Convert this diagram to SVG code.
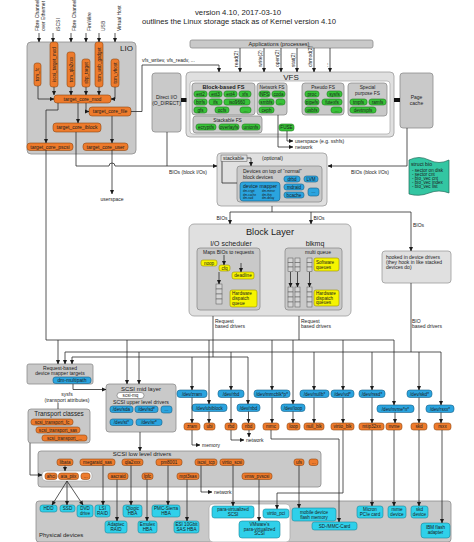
<svg xmlns="http://www.w3.org/2000/svg" width="474" height="542" viewBox="0 0 474 542">
<defs>
<marker id="ar" viewBox="0 0 10 10" refX="9" refY="5" markerWidth="4.5" markerHeight="4.5" markerUnits="userSpaceOnUse" orient="auto"><path d="M0,0.5 L10,5 L0,9.5 z" fill="#1a1a1a"/></marker>
<style>
text{font-family:"Liberation Sans",Arial,Helvetica,sans-serif;fill:#1c1c1c}
.m{text-anchor:middle}
.f5{font-size:5px}
.f4{font-size:4.6px}
.f3{font-size:3px}
.box{fill:#c9c9c9;stroke:#8d8d8d;stroke-width:0.8}
.lbox{fill:#e0e0e0;stroke:#9c9c9c;stroke-width:0.8}
.wbox{fill:#ffffff;stroke:#a8a8a8;stroke-width:0.7}
.o{fill:#ee7b2c;stroke:#8e4611;stroke-width:0.6}
.g{fill:#38c238;stroke:#1c7a1c;stroke-width:0.6}
.b{fill:#2aa4df;stroke:#155f87;stroke-width:0.6}
.y{fill:#f6f400;stroke:#9c9100;stroke-width:0.6}
.c{fill:#2fd0ea;stroke:#19869a;stroke-width:0.6}
.q{fill:#d4d4d4;stroke:#555;stroke-width:0.5}
#connectors path{fill:none;stroke:#2b2b2b;stroke-width:0.8}
.ma{marker-end:url(#ar)}
</style>
</defs>
<rect x="0" y="0" width="474" height="542" fill="#ffffff"/>

<g id="title">
<text x="238" y="14.5" class="m" font-size="7" textLength="86" lengthAdjust="spacingAndGlyphs">version 4.10, 2017-03-10</text>
<text x="239" y="23.5" class="m" font-size="7" textLength="194" lengthAdjust="spacingAndGlyphs">outlines the Linux storage stack as of Kernel version 4.10</text>
</g>

<g id="inputs" class="f5">
<text transform="translate(38.5,31) rotate(-90)">Fibre Channel</text>
<text transform="translate(44.5,31) rotate(-90)">over Ethernet</text>
<text transform="translate(60,31) rotate(-90)">iSCSI</text>
<text transform="translate(76,31) rotate(-90)">Fibre Channel</text>
<text transform="translate(91,31) rotate(-90)">FireWire</text>
<text transform="translate(105,31) rotate(-90)">USB</text>
<text transform="translate(121,31) rotate(-90)">Virtual Host</text>
</g>

<g id="lio">
<rect x="27" y="42" width="109" height="112" rx="4" class="box"/>
<text x="133" y="50.5" font-size="8" text-anchor="end">LIO</text>
<rect x="34" y="63" width="7" height="23" rx="2.5" class="o"/>
<text transform="translate(39.2,74.5) rotate(-90)" class="m f4">tcm_fc</text>
<rect x="50" y="42" width="8" height="45" rx="2.5" class="o"/>
<text transform="translate(55.7,64.5) rotate(-90)" class="m f4">iscsi_target_mod</text>
<rect x="67" y="52" width="8" height="35" rx="2.5" class="o"/>
<text transform="translate(72.7,69.5) rotate(-90)" class="m f4">tcm_qla2xxx</text>
<rect x="82" y="59" width="8" height="28" rx="2.5" class="o"/>
<text transform="translate(87.7,73) rotate(-90)" class="m f4">sbp_target</text>
<rect x="95" y="42" width="8" height="45" rx="2.5" class="o"/>
<text transform="translate(100.7,64.5) rotate(-90)" class="m f4">tcm_usb_gadget</text>
<rect x="111" y="59" width="8" height="28" rx="2.5" class="o"/>
<text transform="translate(116.7,73) rotate(-90)" class="m f4">tcm_vhost</text>
<rect x="54" y="95" width="57" height="8" rx="3" class="o"/>
<text x="82.5" y="100.8" class="m f5">target_core_mod</text>
<rect x="89" y="107" width="42" height="9" rx="3" class="o"/>
<text x="110" y="113.3" class="m f5">target_core_file</text>
<rect x="53" y="123" width="48" height="9" rx="3" class="o"/>
<text x="77" y="129.3" class="m f5">target_core_iblock</text>
<rect x="27" y="143" width="46" height="7.5" rx="3" class="o"/>
<text x="50" y="148.5" class="m f5">target_core_pscsi</text>
<rect x="83" y="143" width="45" height="7.5" rx="3" class="o"/>
<text x="105.5" y="148.5" class="m f5">target_core_user</text>
</g>

<g id="applications">
<rect x="190" y="40" width="183" height="8" rx="2" class="box"/>
<text x="279" y="46.2" class="m" font-size="5.6">Applications (processes)</text>
</g>

<g id="syscalls" class="f5">
<text transform="translate(238,67) rotate(-90)">read(2)</text>
<text transform="translate(262,67) rotate(-90)">write(2)</text>
<text transform="translate(279,67) rotate(-90)">open(2)</text>
<text transform="translate(295,67) rotate(-90)">stat(2)</text>
<text transform="translate(312,67) rotate(-90)">chmod(2)</text>
<text transform="translate(328,67) rotate(-90)">...</text>
</g>

<g id="vfs">
<rect x="186" y="72" width="208" height="65" rx="4" class="lbox"/>
<text x="291" y="79.5" class="m" font-size="8">VFS</text>
<rect x="190" y="81" width="200" height="53" rx="3" class="wbox"/>
<g id="blockfs">
<rect x="192" y="83" width="63" height="32" rx="3" class="box"/>
<text x="223.5" y="89.3" class="m" font-size="5.6" font-weight="bold">Block-based FS</text>
<rect x="194" y="91" width="13" height="6" rx="2.5" class="g"/><text x="200.5" y="95.6" class="m f4">ext2</text>
<rect x="209" y="91" width="13" height="6" rx="2.5" class="g"/><text x="215.5" y="95.6" class="m f4">ext3</text>
<rect x="224" y="91" width="13" height="6" rx="2.5" class="g"/><text x="230.5" y="95.6" class="m f4">ext4</text>
<rect x="239" y="91" width="12" height="6" rx="2.5" class="g"/><text x="245" y="95.6" class="m f4">xfs</text>
<rect x="194" y="99" width="13" height="6" rx="2.5" class="g"/><text x="200.5" y="103.6" class="m f4">btrfs</text>
<rect x="209" y="99" width="13" height="6" rx="2.5" class="g"/><text x="215.5" y="103.6" class="m f4">ifs</text>
<rect x="224" y="99" width="26" height="6" rx="2.5" class="g"/><text x="237" y="103.6" class="m f4">iso9660</text>
<rect x="194" y="107" width="13" height="6" rx="2.5" class="g"/><text x="200.5" y="111.6" class="m f4">gfs</text>
<rect x="215" y="107" width="14" height="6" rx="2.5" class="g"/><text x="222" y="111.6" class="m f4">ocfs</text>
<rect x="240" y="107" width="11" height="6" rx="2.5" class="g"/><text x="245.5" y="111.6" class="m f4">...</text>
</g>
<g id="netfs">
<rect x="257" y="83" width="30" height="32" rx="3" class="box"/>
<text x="272" y="89.3" class="m" font-size="4.8">Network FS</text>
<rect x="259" y="91" width="11" height="6" rx="2.5" class="g"/><text x="264.5" y="95.6" class="m f4">NFS</text>
<rect x="272" y="91" width="13" height="6" rx="2.5" class="g"/><text x="278.5" y="95.6" class="m f4">coda</text>
<rect x="259" y="99" width="15" height="6" rx="2.5" class="g"/><text x="266.5" y="103.6" class="m f4">smbfs</text>
<rect x="276" y="99" width="9" height="6" rx="2.5" class="g"/><text x="280.5" y="103.6" class="m f4">...</text>
<rect x="259" y="107" width="15" height="6" rx="2.5" class="g"/><text x="266.5" y="111.6" class="m f4">ceph</text>
</g>
<g id="pseudofs">
<rect x="302" y="83" width="42" height="32" rx="3" class="box"/>
<text x="323" y="89.3" class="m" font-size="4.8">Pseudo FS</text>
<rect x="305" y="91" width="14" height="6" rx="2.5" class="g"/><text x="312" y="95.6" class="m f4">proc</text>
<rect x="327" y="91" width="15" height="6" rx="2.5" class="g"/><text x="334.5" y="95.6" class="m f4">sysfs</text>
<rect x="305" y="99" width="14" height="6" rx="2.5" class="g"/><text x="312" y="103.6" class="m f4">pipefs</text>
<rect x="322" y="99" width="20" height="6" rx="2.5" class="g"/><text x="332" y="103.6" class="m f4">futexfs</text>
<rect x="305" y="107" width="14" height="6" rx="2.5" class="g"/><text x="312" y="111.6" class="m f4">usbfs</text>
<rect x="331" y="107" width="11" height="6" rx="2.5" class="g"/><text x="336.5" y="111.6" class="m f4">...</text>
</g>
<g id="specialfs">
<rect x="348" y="83" width="39" height="33" rx="3" class="box"/>
<text x="367.5" y="89" class="m" font-size="4.8">Special</text>
<text x="367.5" y="95" class="m" font-size="4.8">purpose FS</text>
<rect x="350" y="99" width="17" height="6" rx="2.5" class="g"/><text x="358.5" y="103.6" class="m f4">tmpfs</text>
<rect x="369" y="99" width="17" height="6" rx="2.5" class="g"/><text x="377.5" y="103.6" class="m f4">ramfs</text>
<rect x="350" y="107" width="26" height="6" rx="2.5" class="g"/><text x="363" y="111.6" class="m f4">devtmpfs</text>
</g>
<g id="stackablefs">
<rect x="193" y="116" width="69" height="17" rx="3" class="box"/>
<text x="227.5" y="121.8" class="m" font-size="4.8">Stackable FS</text>
<rect x="196" y="124" width="20" height="6" rx="2.5" class="g"/><text x="206" y="128.6" class="m f4">ecryptfs</text>
<rect x="219" y="124" width="20" height="6" rx="2.5" class="g"/><text x="229" y="128.6" class="m f4">overlayfs</text>
<rect x="242" y="124" width="18" height="6" rx="2.5" class="g"/><text x="251" y="128.6" class="m f4">unionfs</text>
</g>
<g id="fuse">
<rect x="279" y="124" width="15" height="7" rx="2.5" class="g"/><text x="286.5" y="129.2" class="m f4">FUSE</text>
</g>
</g>

<g id="directio">
<rect x="152" y="73" width="29" height="59" rx="3" class="box"/>
<text x="166.5" y="99" class="m f5">Direct I/O</text>
<text x="166.5" y="105" class="m f5">(O_DIRECT)</text>
<rect x="181" y="98" width="5.5" height="4" fill="#111"/>
</g>

<g id="pagecache">
<rect x="400" y="73" width="33" height="55" rx="3" class="box"/>
<text x="416.5" y="99" class="m f5">Page</text>
<text x="416.5" y="105" class="m f5">cache</text>
<rect x="394" y="98" width="6" height="4" fill="#111"/>
</g>

<g id="stackable">
<rect x="217" y="153" width="110" height="53" rx="4" class="lbox"/>
<rect x="221" y="155" width="26" height="6.5" fill="none" stroke="#555" stroke-width="0.5"/>
<text x="223" y="160" class="f5">stackable</text>
<text x="262" y="160" class="f5">(optional)</text>
<rect x="237" y="166" width="85" height="36" rx="3" class="box"/>
<text x="243" y="172.5" class="f5">Devices on top of “normal”</text>
<text x="243" y="178.5" class="f5">block devices</text>
<rect x="240" y="182" width="40" height="19" rx="3" class="b"/>
<text x="260" y="187.8" class="m" font-size="5.2">device mapper</text>
<text x="243" y="192" class="f3">dm-crypt</text><text x="262" y="192" class="f3">dm-mirror</text>
<text x="243" y="195.7" class="f3">dm-cache</text><text x="262" y="195.7" class="f3">dm-thin</text>
<text x="243" y="199.4" class="f3">dm-raid</text><text x="262" y="199.4" class="f3">dm-delay</text>
<rect x="284" y="176" width="16" height="6" rx="2.5" class="b"/><text x="292" y="180.6" class="m f4">drbd</text>
<rect x="304" y="176" width="14" height="6" rx="2.5" class="b"/><text x="311" y="180.6" class="m f4">LVM</text>
<rect x="284" y="184" width="20" height="6" rx="2.5" class="b"/><text x="294" y="188.6" class="m f4">mdraid</text>
<rect x="284" y="192" width="20" height="6" rx="2.5" class="b"/><text x="294" y="196.6" class="m f4">bcache</text>
<rect x="308" y="188" width="11" height="8" rx="2.5" class="b"/><text x="313.5" y="193.4" class="m f4">...</text>
</g>

<g id="structbio">
<path d="M409,160 Q419,155 429,160 T449,160 V193 Q439,189 429,193 T409,194 Z" fill="#33c6a2" stroke="#1f6b5a" stroke-width="0.7"/>
<text x="411" y="166" font-size="5.2">struct bio</text>
<text x="412" y="171.5" class="f4">- sector on disk</text>
<text x="412" y="175.5" class="f4">- sector cnt</text>
<text x="412" y="179.5" class="f4">- bio_vec cnt</text>
<text x="412" y="183.5" class="f4">- bio_vec index</text>
<text x="412" y="187.5" class="f4">- bio_vec list</text>
</g>

<g id="blocklayer">
<rect x="189" y="224" width="162" height="92" rx="5" class="lbox"/>
<text x="270" y="234.5" class="m" font-size="9.2">Block Layer</text>
<text x="231" y="246" class="m" font-size="7">I/O scheduler</text>
<text x="315" y="246" class="m" font-size="7">blkmq</text>
<g id="iosched">
<rect x="197" y="248" width="63" height="62" rx="3" class="box"/>
<text x="228.5" y="254" class="m f5">Maps BIOs to requests</text>
<rect x="201" y="260" width="16" height="6" rx="2" class="y"/><text x="209" y="264.6" class="m f4">noop</text>
<rect x="219" y="265" width="11" height="6" rx="2" class="y"/><text x="224.5" y="269.6" class="m f4">cfq</text>
<rect x="232" y="272" width="22" height="7" rx="2" class="y"/><text x="243" y="277.2" class="m f4">deadline</text>
<rect x="230" y="290" width="27" height="17" rx="2" class="y"/>
<text x="232" y="295" class="f4">Hardware</text><text x="232" y="300" class="f4">dispatch</text><text x="232" y="305" class="f4">queue</text>
<rect x="216" y="284" width="6" height="5" class="q"/><rect x="216" y="289" width="6" height="5" class="q"/><rect x="216" y="294" width="6" height="5" class="q"/><rect x="216" y="299" width="6" height="5" class="q"/>
</g>
<g id="blkmq">
<rect x="285" y="248" width="57" height="62" rx="3" class="box"/>
<text x="318" y="254" class="m f5">multi queue</text>
<rect x="314" y="258" width="25" height="13" rx="2" class="y"/>
<text x="316" y="263.5" class="f4">Software</text><text x="316" y="268.5" class="f4">queues</text>
<rect x="314" y="290" width="25" height="16" rx="2" class="y"/>
<text x="316" y="295" class="f4">Hardware</text><text x="316" y="299.7" class="f4">dispatch</text><text x="316" y="304.4" class="f4">queues</text>
<rect x="288" y="258" width="5" height="4.5" class="q"/><rect x="288" y="262.5" width="5" height="4.5" class="q"/><rect x="288" y="267" width="5" height="4.5" class="q"/>
<rect x="295" y="258" width="5" height="4.5" class="q"/><rect x="295" y="262.5" width="5" height="4.5" class="q"/><rect x="295" y="267" width="5" height="4.5" class="q"/>
<rect x="307" y="258" width="5" height="4.5" class="q"/><rect x="307" y="262.5" width="5" height="4.5" class="q"/><rect x="307" y="267" width="5" height="4.5" class="q"/>
<rect x="288" y="287" width="5" height="5" class="q"/><rect x="288" y="292" width="5" height="5" class="q"/><rect x="288" y="297" width="5" height="5" class="q"/><rect x="288" y="302" width="5" height="5" class="q"/>
<rect x="295" y="287" width="5" height="5" class="q"/><rect x="295" y="292" width="5" height="5" class="q"/><rect x="295" y="297" width="5" height="5" class="q"/><rect x="295" y="302" width="5" height="5" class="q"/>
<rect x="307" y="287" width="5" height="5" class="q"/><rect x="307" y="292" width="5" height="5" class="q"/><rect x="307" y="297" width="5" height="5" class="q"/><rect x="307" y="302" width="5" height="5" class="q"/>
</g>
</g>

<g id="hooked">
<rect x="382" y="251" width="69" height="32" rx="3" class="lbox"/>
<text x="386" y="259" class="f5">hooked in device drivers</text>
<text x="386" y="264" class="f5">(they hook in like stacked</text>
<text x="386" y="269" class="f5">devices do)</text>
</g>

<g id="labels" class="f5">
<text x="142" y="62">vfs_writev, vfs_readv, ...</text>
<text x="295" y="143">userspace (e.g. sshfs)</text>
<text x="295" y="149">network</text>
<text x="112" y="201" class="m">userspace</text>
<text x="188" y="174" class="m">BIOs (block I/Os)</text>
<text x="370" y="174" class="m">BIOs (block I/Os)</text>
<text x="222" y="220" class="m">BIOs</text>
<text x="319" y="220" class="m">BIOs</text>
<text x="413" y="227">BIOs</text>
<text x="215" y="322.5">Request</text>
<text x="215" y="327.5">based drivers</text>
<text x="301" y="322.5">Request</text>
<text x="301" y="327.5">based drivers</text>
<text x="412" y="322.5">BIO</text>
<text x="412" y="327.5">based drivers</text>
<text x="67" y="396" class="m">sysfs</text>
<text x="67" y="401.5" class="m">(transport attributes)</text>
<text x="202" y="447">memory</text>
<text x="246" y="442">network</text>
<text x="214" y="494">network</text>
</g>

<g id="dm-targets">
<rect x="27" y="364" width="66" height="20" rx="2" class="box"/>
<text x="60" y="369.5" class="m f5">Request-based</text>
<text x="60" y="375" class="m f5">device mapper targets</text>
<rect x="53" y="377" width="38" height="6.5" rx="2.5" class="b"/><text x="72" y="382" class="m f5">dm-multipath</text>
</g>

<g id="scsi-mid">
<rect x="106" y="384" width="70" height="48" rx="3" class="box"/>
<text x="141" y="390.5" class="m" font-size="6">SCSI mid layer</text>
<rect x="117" y="392.5" width="27" height="6" rx="3" fill="#fff" stroke="#555" stroke-width="0.5"/><text x="130.5" y="397.2" class="m f4">scsi-mq</text>
<text x="141" y="403.5" class="m" font-size="5.2">SCSI upper level drivers</text>
<rect x="110" y="406" width="23" height="6.5" rx="2.5" class="b"/><text x="121.5" y="410.9" class="m f4">/dev/sda</text>
<rect x="135" y="406" width="23" height="6.5" rx="2.5" class="b"/><text x="146.5" y="410.9" class="m f4">/dev/sd*</text>
<rect x="161" y="406" width="11" height="7" rx="2.5" class="b"/><text x="166.5" y="411" class="m f4">...</text>
<rect x="110" y="419" width="23" height="6.5" rx="2.5" class="b"/><text x="121.5" y="423.9" class="m f4">/dev/st*</text>
<rect x="136" y="419" width="26" height="6.5" rx="2.5" class="b"/><text x="149" y="423.9" class="m f4">/dev/sr*</text>
</g>

<g id="transport">
<rect x="28" y="409" width="62" height="34" rx="3" class="box"/>
<text x="59" y="416" class="m" font-size="6.3">Transport classes</text>
<rect x="31" y="419" width="42" height="6" rx="2.5" class="o"/><text x="52" y="423.6" class="m f4">scsi_transport_fc</text>
<rect x="36" y="427" width="44" height="6" rx="2.5" class="o"/><text x="58" y="431.6" class="m f4">scsi_transport_sas</text>
<rect x="42" y="435" width="45" height="6" rx="2.5" class="o"/><text x="64.5" y="439.6" class="m f4">scsi_transport_...</text>
</g>

<g id="devnodes">
<rect x="177" y="390" width="30" height="7.5" rx="3" class="b"/><text x="192" y="395.5" class="m f4">/dev/zram</text>
<rect x="218" y="390" width="26" height="7.5" rx="3" class="b"/><text x="231" y="395.5" class="m f4">/dev/rbd</text>
<rect x="254" y="390" width="36" height="7.5" rx="3" class="b"/><text x="272" y="395.5" class="m f4">/dev/mmcblk*p*</text>
<rect x="300" y="390" width="29" height="7.5" rx="3" class="b"/><text x="314.5" y="395.5" class="m f4">/dev/nullb*</text>
<rect x="331" y="390" width="23" height="7.5" rx="3" class="b"/><text x="342.5" y="395.5" class="m f4">/dev/vd*</text>
<rect x="359" y="390" width="26" height="7.5" rx="3" class="b"/><text x="372" y="395.5" class="m f4">/dev/rssd*</text>
<rect x="407" y="390" width="25" height="7.5" rx="3" class="b"/><text x="419.5" y="395.5" class="m f4">/dev/skd*</text>
<rect x="192" y="404" width="35" height="7.5" rx="3" class="b"/><text x="209.5" y="409.5" class="m f4">/dev/ubiblock</text>
<rect x="237" y="404" width="23" height="7.5" rx="3" class="b"/><text x="248.5" y="409.5" class="m f4">/dev/nbd</text>
<rect x="281" y="404" width="24" height="7.5" rx="3" class="b"/><text x="293" y="409.5" class="m f4">/dev/loop</text>
<rect x="377" y="405" width="37" height="7.5" rx="3" class="b"/><text x="395.5" y="410.5" class="m f4">/dev/nvme*n*</text>
<rect x="426" y="405" width="28" height="7.5" rx="3" class="b"/><text x="440" y="410.5" class="m f4">/dev/rsxx*</text>
</g>

<g id="blockdrivers">
<rect x="184" y="423" width="16" height="7" rx="2.5" class="o"/><text x="192" y="428.2" class="m f4">zram</text>
<rect x="204" y="423" width="11" height="7" rx="2.5" class="o"/><text x="209.5" y="428.2" class="m f4">ubi</text>
<rect x="225" y="423" width="12" height="7" rx="2.5" class="o"/><text x="231" y="428.2" class="m f4">rbd</text>
<rect x="242" y="423" width="13" height="7" rx="2.5" class="o"/><text x="248.5" y="428.2" class="m f4">nbd</text>
<rect x="263" y="423" width="16" height="7" rx="2.5" class="o"/><text x="271" y="428.2" class="m f4">mmc</text>
<rect x="287" y="423" width="13" height="7" rx="2.5" class="o"/><text x="293.5" y="428.2" class="m f4">loop</text>
<rect x="304" y="423" width="20" height="7" rx="2.5" class="o"/><text x="314" y="428.2" class="m f4">null_blk</text>
<rect x="331" y="423" width="23" height="7" rx="2.5" class="o"/><text x="342.5" y="428.2" class="m f4">virtio_blk</text>
<rect x="359" y="423" width="25" height="7" rx="2.5" class="o"/><text x="371.5" y="428.2" class="m f4">mtip32xx</text>
<rect x="386" y="423" width="16" height="7" rx="2.5" class="o"/><text x="394" y="428.2" class="m f4">nvme</text>
<rect x="411" y="423" width="16" height="7" rx="2.5" class="o"/><text x="419" y="428.2" class="m f4">skd</text>
<rect x="434" y="423" width="17" height="7" rx="2.5" class="o"/><text x="442.5" y="428.2" class="m f4">rsxx</text>
</g>

<g id="scsi-low">
<rect x="38" y="451" width="283" height="36" rx="3" class="box"/>
<text x="142" y="456.3" class="m" font-size="6">SCSI low level drivers</text>
<rect x="57" y="459" width="16" height="6.5" rx="2.5" class="o"/><text x="65" y="464" class="m f4">libata</text>
<rect x="80" y="459" width="35" height="6.5" rx="2.5" class="o"/><text x="97.5" y="464" class="m f4">megaraid_sas</text>
<rect x="122" y="459" width="21" height="6.5" rx="2.5" class="o"/><text x="132.5" y="464" class="m f4">qla2xxx</text>
<rect x="156" y="459" width="26" height="6.5" rx="2.5" class="o"/><text x="169" y="464" class="m f4">pm8001</text>
<rect x="195" y="459" width="22" height="6.5" rx="2.5" class="o"/><text x="206" y="464" class="m f4">iscsi_tcp</text>
<rect x="220" y="459" width="24" height="6.5" rx="2.5" class="o"/><text x="232" y="464" class="m f4">virtio_scsi</text>
<rect x="294" y="459" width="10" height="6.5" rx="2.5" class="o"/><text x="299" y="464" class="m f4">ufs</text>
<rect x="309" y="459" width="9" height="6.5" rx="2.5" class="o"/><text x="313.5" y="464" class="m f4">...</text>
<rect x="42" y="471" width="50" height="10" rx="4" class="wbox"/>
<rect x="45" y="473" width="12" height="6.5" rx="2.5" class="o"/><text x="51" y="478" class="m f4">ahci</text>
<rect x="58.5" y="473" width="20" height="6.5" rx="2.5" class="o"/><text x="68.5" y="478" class="m f4">ata_piix</text>
<rect x="81" y="473" width="9" height="6.5" rx="2.5" class="o"/><text x="85.5" y="478" class="m f4">...</text>
<rect x="108" y="473" width="20" height="6.5" rx="2.5" class="o"/><text x="118" y="478" class="m f4">aacraid</text>
<rect x="142" y="473" width="11" height="6.5" rx="2.5" class="o"/><text x="147.5" y="478" class="m f4">lpfc</text>
<rect x="177" y="473" width="22" height="6.5" rx="2.5" class="o"/><text x="188" y="478" class="m f4">mpt3sas</text>
<rect x="242" y="473" width="30" height="6.5" rx="2.5" class="o"/><text x="257" y="478" class="m f4">vmw_pvscsi</text>
</g>

<g id="physical">
<rect x="36" y="501" width="415" height="41" rx="3" class="box"/>
<text x="39" y="536.5" font-size="6">Physical devices</text>
<rect x="209" y="504" width="81" height="38" rx="4" class="wbox"/>
<rect x="40" y="505" width="17" height="7" rx="2.5" class="c"/><text x="48.5" y="510.2" class="m f4">HDD</text>
<rect x="60" y="505" width="15" height="7" rx="2.5" class="c"/><text x="67.5" y="510.2" class="m f4">SSD</text>
<rect x="77" y="505" width="16" height="12" rx="2.5" class="c"/><text x="85" y="510" class="m f4">DVD</text><text x="85" y="515" class="m f4">drive</text>
<rect x="95" y="505" width="15" height="12" rx="2.5" class="c"/><text x="102.5" y="510" class="m f4">LSI</text><text x="102.5" y="515" class="m f4">RAID</text>
<rect x="123" y="505" width="19" height="12" rx="2.5" class="c"/><text x="132.5" y="510" class="m f4">Qlogic</text><text x="132.5" y="515" class="m f4">HBA</text>
<rect x="152" y="505" width="28" height="12" rx="2.5" class="c"/><text x="166" y="510" class="m f4">PMC-Sierra</text><text x="166" y="515" class="m f4">HBA</text>
<rect x="105" y="521" width="22" height="12" rx="2.5" class="c"/><text x="116" y="526" class="m f4">Adaptec</text><text x="116" y="531" class="m f4">RAID</text>
<rect x="138" y="521" width="19" height="12" rx="2.5" class="c"/><text x="147.5" y="526" class="m f4">Emulex</text><text x="147.5" y="531" class="m f4">HBA</text>
<rect x="174" y="521" width="25" height="12" rx="2.5" class="c"/><text x="186.5" y="526" class="m f4">ESI 10Gbit</text><text x="186.5" y="531" class="m f4">SAS HBA</text>
<rect x="212" y="506" width="42" height="12" rx="2.5" class="c"/><text x="233" y="511" class="m f4">para-virtualized</text><text x="233" y="516" class="m f4">SCSI</text>
<rect x="263" y="509" width="26" height="9" rx="2.5" class="c"/><text x="276" y="515" class="m f4">virtio_pci</text>
<rect x="239" y="521" width="41" height="17" rx="3" class="c"/><text x="259.5" y="526" class="m f4">VMware's</text><text x="259.5" y="530.6" class="m f4">para-virtualized</text><text x="259.5" y="535.2" class="m f4">SCSI</text>
<rect x="292" y="508" width="44" height="13" rx="2.5" class="c"/><text x="314" y="513.5" class="m f4">mobile device</text><text x="314" y="518.5" class="m f4">flash memory</text>
<rect x="312" y="522" width="45" height="8" rx="2.5" class="c"/><text x="334.5" y="527.5" class="m f4">SD-/MMC-Card</text>
<rect x="357" y="506" width="26" height="12" rx="2.5" class="c"/><text x="370" y="511" class="m f4">Micron</text><text x="370" y="516" class="m f4">PCIe card</text>
<rect x="388" y="506" width="18" height="12" rx="2.5" class="c"/><text x="397" y="511" class="m f4">nvme</text><text x="397" y="516" class="m f4">device</text>
<rect x="411" y="506" width="17" height="12" rx="2.5" class="c"/><text x="419.5" y="511" class="m f4">skd</text><text x="419.5" y="516" class="m f4">device</text>
<rect x="421" y="523" width="29" height="15" rx="3" class="c"/><text x="435.5" y="529" class="m f4">IBM flash</text><text x="435.5" y="534" class="m f4">adapter</text>
</g>

<g id="connectors">
<path class="ma" d="M39,33 V42"/><path class="ma" d="M53,33 V42"/><path class="ma" d="M71,33 V42"/><path class="ma" d="M86,33 V42"/><path class="ma" d="M99,33 V42"/><path class="ma" d="M115,33 V42"/>
<path class="ma" d="M240,48 V72"/><path class="ma" d="M264,48 V72"/><path class="ma" d="M281,48 V72"/><path class="ma" d="M297,48 V72"/><path class="ma" d="M314,48 V72"/><path class="ma" d="M330,48 V72"/>
<path class="ma" d="M38,86 V99 H54"/>
<path class="ma" d="M54,87 V95"/><path class="ma" d="M71,87 V95"/><path class="ma" d="M86,87 V95"/><path class="ma" d="M99,87 V95"/>
<path class="ma" d="M115,87 V99 H111"/>
<path class="ma" d="M86,103 V111.5 H89"/>
<path class="ma" d="M78,103 V123"/>
<path class="ma" d="M58,103 V110 H46 V143"/>
<path class="ma" d="M112,116 V143"/>
<path class="ma" d="M131,111.5 H142 V65 H219 V72"/>
<path class="ma" d="M112,150 V194"/>
<path class="ma" d="M76,132 V166 H109 a3,3 0 0 1 6,0 H217"/>
<path d="M167,132 V166"/>
<path class="ma" d="M407,128 V166 H328"/>
<path class="ma" d="M287,131 V141 H293"/>
<path class="ma" d="M278,115 V147 H293"/>
<path class="ma" d="M247,158 H251 V166"/>
<path d="M237,183 H222 V161.5"/>
<path d="M272,206 V212"/>
<path class="ma" d="M230,212 V224"/>
<path class="ma" d="M311,212 V224"/>
<path class="ma" d="M230,212 H411 V251"/>
<path class="ma" d="M224,255 V265"/>
<path class="ma" d="M241,263 V272"/>
<path class="ma" d="M219,272 V284"/>
<path class="ma" d="M290.5,272 V287"/><path class="ma" d="M297.5,272 V287"/><path class="ma" d="M309.5,272 V287"/>
<path d="M213,316 V357"/>
<path d="M299,316 V340"/>
<path d="M411,283 V352"/>
<path d="M46,150 V340 H394"/>
<path d="M65,352 H441"/>
<path d="M72,357 H248"/>
<path class="ma" d="M58,340 V364"/><path class="ma" d="M65,352 V364"/><path class="ma" d="M72,357 V364"/>
<path class="ma" d="M127,340 V384"/><path class="ma" d="M139,352 V384"/>
<path class="ma" d="M192,357 V390"/><path class="ma" d="M209,340 V404"/><path class="ma" d="M231,352 V390"/><path class="ma" d="M248,357 V404"/>
<path class="ma" d="M272,340 V390"/><path class="ma" d="M293,340 V404"/><path class="ma" d="M314,352 V390"/><path class="ma" d="M343,340 V390"/>
<path class="ma" d="M372,352 V390"/><path class="ma" d="M394,340 V405"/><path class="ma" d="M419,352 V390"/><path class="ma" d="M441,352 V405"/>
<path class="ma" d="M73,384 V389.5 H106"/>
<path d="M58,403 V409"/>
<path class="ma" d="M30,443 V475 H42"/>
<path class="ma" d="M140,432 V451"/>
<path class="ma" d="M192,397.5 V423"/><path class="ma" d="M209,411.5 V423"/><path class="ma" d="M231,397.5 V423"/><path class="ma" d="M248.5,411.5 V423"/>
<path class="ma" d="M272,397.5 V423"/><path class="ma" d="M293,411.5 V423"/><path class="ma" d="M314,397.5 V423"/><path class="ma" d="M343,397.5 V423"/>
<path class="ma" d="M372,397.5 V423"/><path class="ma" d="M395,412.5 V423"/><path class="ma" d="M419,397.5 V423"/><path class="ma" d="M441,412.5 V423"/>
<path class="ma" d="M192,430 V445 H200"/>
<path class="ma" d="M231,430 V440 H244"/>
<path class="ma" d="M249,430 V437"/>
<path class="ma" d="M271,430 V439 H339 V522"/>
<path class="ma" d="M343,430 V493 H277 V509"/>
<path class="ma" d="M372,430 V506"/><path class="ma" d="M394,430 V506"/><path class="ma" d="M419,430 V506"/><path class="ma" d="M442,430 V523"/>
<path class="ma" d="M65,465.5 V471"/>
<path class="ma" d="M67,481 L52,505"/><path class="ma" d="M67,481 V505"/><path class="ma" d="M67,481 L83,505"/>
<path class="ma" d="M103,465.5 V505"/><path class="ma" d="M117,479.5 V521"/><path class="ma" d="M131,465.5 V505"/><path class="ma" d="M147,479.5 V521"/>
<path class="ma" d="M168,465.5 V505"/><path class="ma" d="M187,479.5 V521"/>
<path class="ma" d="M201,465.5 V492 H212"/>
<path class="ma" d="M233,465.5 V506"/>
<path class="ma" d="M259,479.5 V521"/>
<path class="ma" d="M299,465.5 V508"/>
</g>
</svg>
